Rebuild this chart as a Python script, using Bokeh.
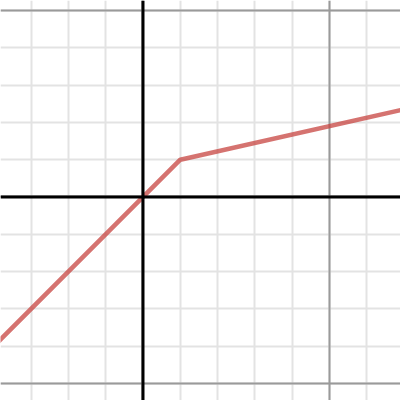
from bokeh.plotting import figure
from bokeh.models import Grid, SingleIntervalTicker, Span, Range1d
from bokeh.embed import file_html
from bokeh.resources import INLINE

# piecewise line: y = x up to the bend at (1, 1), then a much flatter rise
xs = [-4, 1, 7]
ys = [-4, 1, 2.35]

# view window (graph units), chosen so the grid lands where it does in the picture
x_lo, x_hi = -3.820, 6.903
y_lo, y_hi = -5.456, 5.268

p = figure(width=400, height=400, output_backend="svg", toolbar_location=None,
           x_axis_type=None, y_axis_type=None,
           x_range=Range1d(x_lo, x_hi), y_range=Range1d(y_lo, y_hi),
           min_border=0)
p.outline_line_color = None
p.background_fill_color = "white"
p.border_fill_color = "white"

# minor grid every unit
p.add_layout(Grid(dimension=0, ticker=SingleIntervalTicker(interval=1),
                  grid_line_color="#e3e3e3", grid_line_width=2))
p.add_layout(Grid(dimension=1, ticker=SingleIntervalTicker(interval=1),
                  grid_line_color="#e3e3e3", grid_line_width=2))
# major grid every 5 units
p.add_layout(Grid(dimension=0, ticker=SingleIntervalTicker(interval=5),
                  grid_line_color="#9a9a9a", grid_line_width=2))
p.add_layout(Grid(dimension=1, ticker=SingleIntervalTicker(interval=5),
                  grid_line_color="#9a9a9a", grid_line_width=2))

# the axes themselves
p.add_layout(Span(location=0, dimension="height", line_color="black", line_width=3))
p.add_layout(Span(location=0, dimension="width", line_color="black", line_width=3))

p.line(xs, ys, line_color="#c74440", line_alpha=0.75, line_width=4.5)

open("out.html", "w").write(file_html(p, INLINE))
